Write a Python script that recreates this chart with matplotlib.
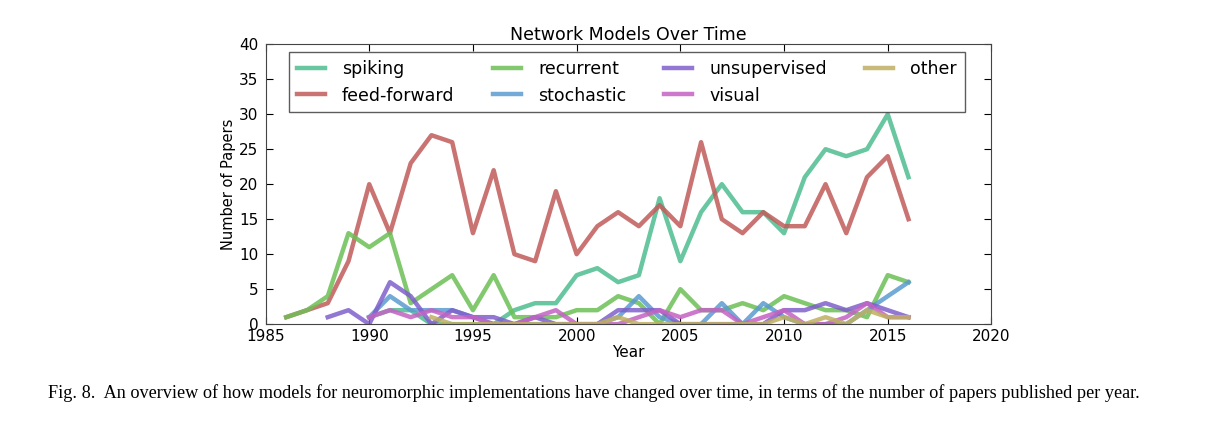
import numpy as np
import matplotlib
matplotlib.use("Agg")
import matplotlib.pyplot as plt

# papers per year
years_spiking = list(range(1990, 2017))
spiking = [1, 2, 2, 0, 0, 0, 0, 2, 3, 3, 7, 8, 6, 7, 18, 9, 16, 20, 16, 16, 13, 21, 25, 24, 25, 30, 21]

years_ff = list(range(1986, 2017))
feed_forward = [1, 2, 3, 9, 20, 13, 23, 27, 26, 13, 22, 10, 9, 19, 10, 14, 16, 14, 17, 14,
                26, 15, 13, 16, 14, 14, 20, 13, 21, 24, 15]

years_rec = list(range(1986, 2017))
recurrent = [1, 2, 4, 13, 11, 13, 3, 5, 7, 2, 7, 1, 1, 1, 2, 2, 4, 3, 0, 5,
             2, 2, 3, 2, 4, 3, 2, 2, 1, 7, 6]

years_sto = list(range(1990, 2017))
stochastic = [1, 4, 2, 2, 2, 1, 0, 0, 0, 0, 0, 0, 1, 4, 1, 0, 0, 3, 0, 3,
              1, 0, 0, 0, 2, 4, 6]

years_uns = list(range(1988, 2017))
unsupervised = [1, 2, 0, 6, 4, 0, 2, 1, 1, 0, 1, 0, 0, 0, 2, 2, 2, 0, 0, 0,
                0, 0, 2, 2, 3, 2, 3, 2, 1]

years_vis = list(range(1990, 2017))
visual = [1, 2, 1, 2, 1, 1, 0, 0, 1, 2, 0, 0, 0, 1, 2, 1, 2, 2, 0, 1,
          2, 0, 0, 1, 3, 1, 1]

years_oth = list(range(1993, 2017))
other = [1, 0, 0, 0, 0, 0, 0, 0, 0, 1, 0, 0, 0, 0, 0, 0, 0, 1, 0, 1,
         0, 2, 1, 1]

series = [
    ("spiking", years_spiking, spiking, "#4dbd8f"),
    ("feed-forward", years_ff, feed_forward, "#c05c5a"),
    ("recurrent", years_rec, recurrent, "#6cbf55"),
    ("stochastic", years_sto, stochastic, "#5a9bd0"),
    ("unsupervised", years_uns, unsupervised, "#7f5fcc"),
    ("visual", years_vis, visual, "#c462c3"),
    ("other", years_oth, other, "#bfb062"),
]

fig = plt.figure(figsize=(12.18, 4.21), dpi=100)
ax = fig.add_axes([0.218, 0.230, 0.596, 0.665])

for name, xs, ys, col in series:
    ax.plot(xs, ys, color=col, lw=3.2, alpha=0.85, label=name)

ax.set_xlim(1985, 2020)
ax.set_ylim(0, 40)
ax.set_xticks(range(1985, 2021, 5))
ax.set_yticks(range(0, 41, 5))
ax.tick_params(direction='in', top=True, right=True, labelsize=11, length=5)
ax.tick_params(axis='y', pad=5)
for s in ax.spines.values():
    s.set_color('#444444')
ax.set_title("Network Models Over Time", fontsize=12.5, pad=3)
ax.set_xlabel("Year", fontsize=11, labelpad=1)
ax.set_ylabel("Number of Papers", fontsize=10.5, labelpad=2)

leg = ax.legend(ncol=4, loc='upper center', bbox_to_anchor=(0.498, 0.972), fontsize=12.5,
                fancybox=False, handlelength=1.6, handletextpad=1.0, columnspacing=2.2,
                borderpad=0.45, labelspacing=0.5, borderaxespad=0)
leg.get_frame().set_edgecolor('#333333')
leg.get_frame().set_linewidth(1.0)

fig.text(0.039, 0.055, "Fig. 8.  An overview of how models for neuromorphic implementations have changed over time, "
         "in terms of the number of papers published per year.",
         fontsize=13.15, family='Liberation Serif')

fig.savefig("out.png", dpi=100)
